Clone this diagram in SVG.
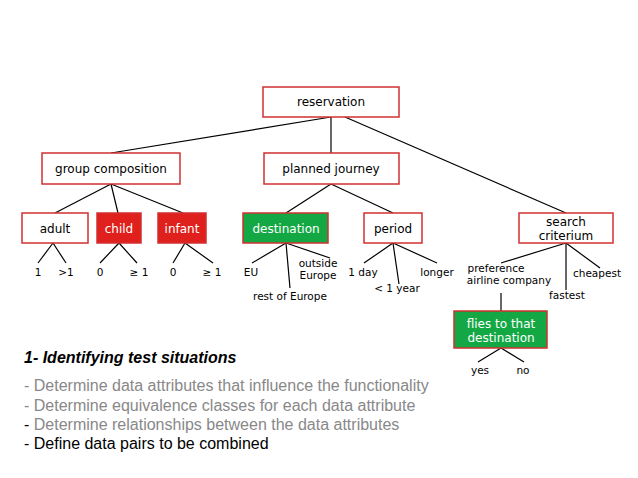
<svg xmlns="http://www.w3.org/2000/svg" width="638" height="478" viewBox="0 0 638 478">
<style>
.b{fill:#fff;stroke:#d03030;stroke-width:1.5}
.r{fill:#e0201c;stroke:#d03030;stroke-width:1.5}
.g{fill:#14a845;stroke:#d03030;stroke-width:1.5}
.t{font-family:"DejaVu Sans",sans-serif;font-size:12px;text-anchor:middle;fill:#000}
.w{fill:#fff}
.s{font-family:"DejaVu Sans",sans-serif;font-size:10.5px;text-anchor:middle;fill:#000}
.c line{stroke:#000;stroke-width:1.2}
.p{font-family:"Liberation Sans",Arial,sans-serif;font-size:16px;fill:#888}
</style>
<rect width="638" height="478" fill="#fff"/>
<g class="c">
<line x1="331" y1="117" x2="111" y2="153"/><line x1="331" y1="117" x2="331" y2="153"/><line x1="345" y1="117" x2="566" y2="213"/>
<line x1="111" y1="184" x2="55" y2="213"/><line x1="111" y1="184" x2="118" y2="213"/><line x1="111" y1="184" x2="183" y2="213"/>
<line x1="331" y1="184" x2="286" y2="213"/><line x1="331" y1="184" x2="393" y2="213"/>
<line x1="53" y1="243" x2="38" y2="263"/><line x1="53" y1="243" x2="66" y2="263"/>
<line x1="119" y1="243" x2="100" y2="263"/><line x1="119" y1="243" x2="137" y2="263"/>
<line x1="185" y1="243" x2="173" y2="263"/><line x1="185" y1="243" x2="213" y2="263"/>
<line x1="286" y1="243" x2="252" y2="263"/><line x1="286" y1="243" x2="290" y2="288"/><line x1="286" y1="243" x2="330" y2="258"/>
<line x1="393" y1="243" x2="364" y2="263"/><line x1="393" y1="243" x2="399" y2="284"/><line x1="393" y1="243" x2="437" y2="263"/>
<line x1="566" y1="243" x2="501" y2="263"/><line x1="566" y1="243" x2="566" y2="290"/><line x1="566" y1="243" x2="600" y2="268"/>
<line x1="501" y1="293" x2="501" y2="311"/>
<line x1="501" y1="348" x2="478" y2="362"/><line x1="501" y1="348" x2="524" y2="362"/>
</g>
<g id="reservation"><rect class="b" x="263" y="87" width="136" height="30"/><text class="t" x="331" y="106">reservation</text></g>
<g id="group"><rect class="b" x="42" y="153" width="138" height="31"/><text class="t" x="111" y="173">group composition</text></g>
<g id="planned"><rect class="b" x="264" y="153" width="135" height="31"/><text class="t" x="331" y="173">planned journey</text></g>
<g id="adult"><rect class="b" x="22" y="213" width="66" height="30"/><text class="t" x="55" y="233">adult</text></g>
<g id="child"><rect class="r" x="97" y="213" width="44" height="30"/><text class="t w" x="119" y="233">child</text></g>
<g id="infant"><rect class="r" x="158" y="213" width="48" height="30"/><text class="t w" x="182" y="233">infant</text></g>
<g id="destination"><rect class="g" x="243" y="213" width="85" height="30"/><text class="t w" x="286" y="233">destination</text></g>
<g id="period"><rect class="b" x="364" y="213" width="58" height="30"/><text class="t" x="393" y="233">period</text></g>
<g id="search"><rect class="b" x="519" y="213" width="94" height="30"/><text class="t" x="566" y="226">search</text><text class="t" x="566" y="240">criterium</text></g>
<g id="flies"><rect class="g" x="454" y="311" width="93" height="37"/><text class="t w" x="501" y="328">flies to that</text><text class="t w" x="501" y="342">destination</text></g>
<g id="labels">
<text class="s" x="38" y="276">1</text><text class="s" x="66" y="276">&gt;1</text>
<text class="s" x="100" y="276">0</text><text class="s" x="139" y="276">≥ 1</text>
<text class="s" x="173" y="276">0</text><text class="s" x="212" y="276">≥ 1</text>
<text class="s" x="251" y="276">EU</text><text class="s" x="290" y="300">rest of Europe</text>
<text class="s" x="318" y="267">outside</text><text class="s" x="318" y="279">Europe</text>
<text class="s" x="363" y="276">1 day</text><text class="s" x="397" y="292">&lt; 1 year</text><text class="s" x="437" y="276">longer</text>
<text class="s" x="496" y="272">preference</text><text class="s" x="509" y="284">airline company</text>
<text class="s" x="567" y="299">fastest</text><text class="s" x="597" y="277">cheapest</text>
<text class="s" x="480" y="374">yes</text><text class="s" x="523" y="374">no</text>
</g>
<text x="24" y="363" font-family="Liberation Sans,Arial,sans-serif" font-size="16" font-weight="bold" font-style="italic">1- Identifying test situations</text>
<text class="p" x="24" y="391">- Determine data attributes that influence the functionality</text>
<text class="p" x="24" y="411">- Determine equivalence classes for each data attribute</text>
<text class="p" x="24" y="430"><tspan fill="#000">-</tspan> Determine relationships between the data attributes</text>
<text class="p" x="24" y="449" fill="#000" style="fill:#000">- Define data pairs to be combined</text>
</svg>
